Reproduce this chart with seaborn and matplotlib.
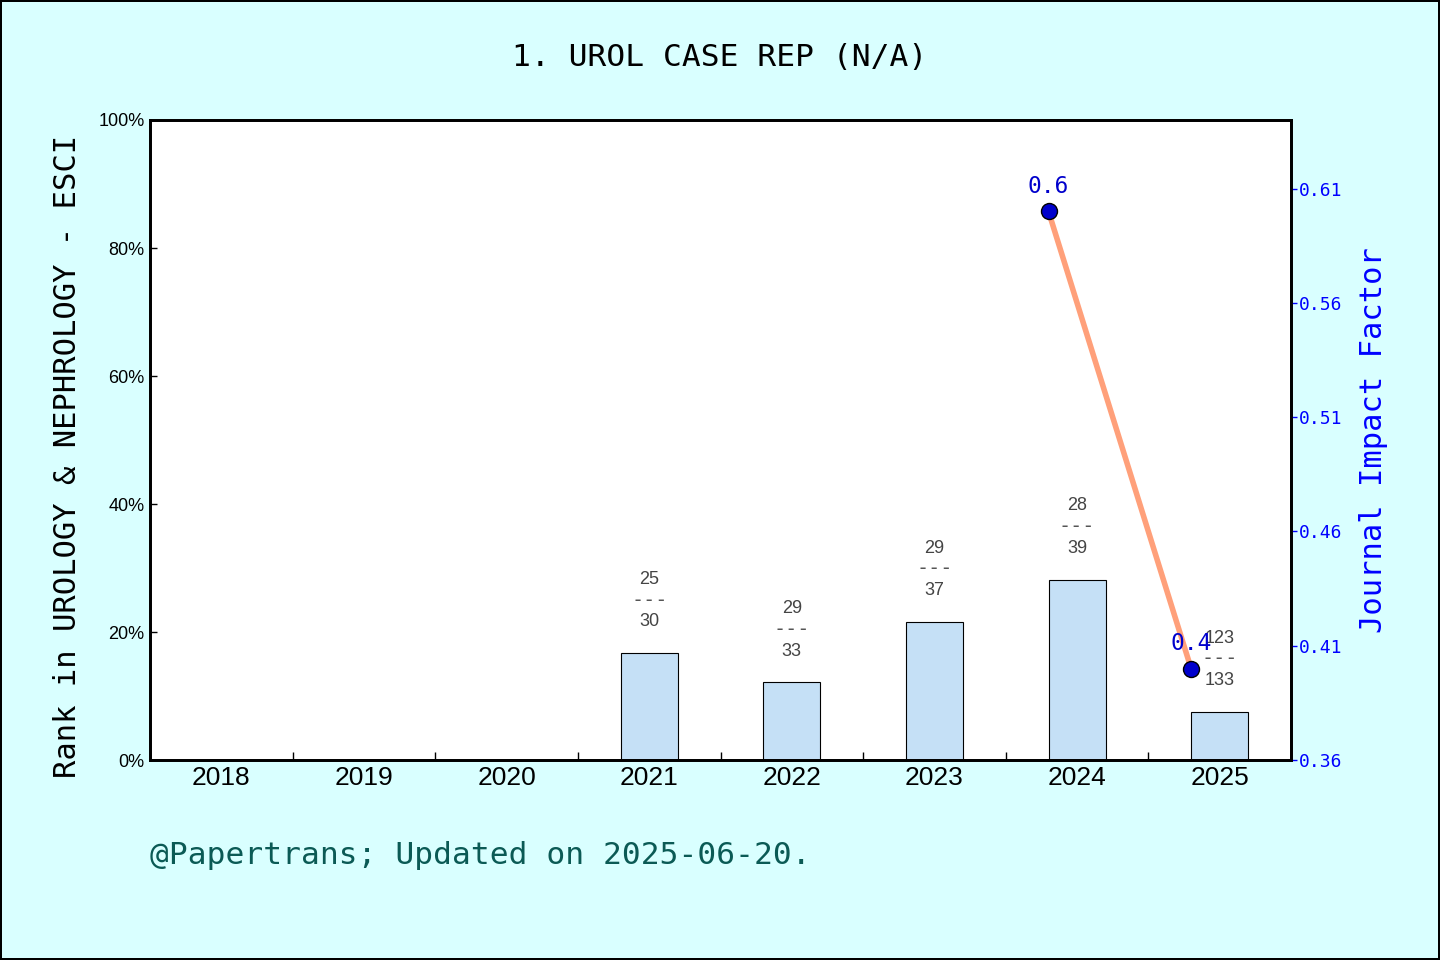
import numpy as np
import pandas as pd
import matplotlib
matplotlib.use("Agg")
import matplotlib.pyplot as plt
from matplotlib.ticker import FixedLocator
import seaborn as sns

# === data ===
years = ['2018', '2019', '2020', '2021', '2022', '2023', '2024', '2025']
rank_years = ['2021', '2022', '2023', '2024', '2025']
rank = [25, 29, 29, 28, 123]
total = [30, 33, 37, 39, 133]
jif_years = ['2024', '2025']
jif = [0.6, 0.4]
jif_ticks = [0.36, 0.41, 0.46, 0.51, 0.56, 0.61]

title = "1. UROL CASE REP (N/A)"
ylabel_left = "Rank in UROLOGY & NEPHROLOGY - ESCI"
ylabel_right = "Journal Impact Factor"
footer = "@Papertrans; Updated on 2025-06-20."

mono = ['DejaVu Sans Mono']
sans = ['Liberation Sans', 'DejaVu Sans']

df = pd.DataFrame({'year': rank_years, 'rank': rank, 'total': total})
df['ratio'] = 1 - df['rank'] / df['total']

sns.set_style("white")
plt.rcParams['font.family'] = sans
plt.rcParams['text.color'] = 'black'
plt.rcParams['axes.labelcolor'] = 'black'
plt.rcParams['xtick.color'] = 'black'
plt.rcParams['ytick.color'] = 'black'

fig = plt.figure(figsize=(14.4, 9.6), dpi=100, facecolor='#d9ffff',
                 edgecolor='black', linewidth=1.5)
ax = fig.add_axes([0.1042, 0.2083, 0.7923, 0.6667])
ax.set_facecolor('white')

sns.barplot(data=df, x='year', y='ratio', order=years, color='#c5e0f6',
            edgecolor='black', linewidth=0.8, width=0.4, errorbar=None,
            saturation=1, ax=ax)

# rank / total above each bar
for _, r in df.iterrows():
    xi = years.index(r['year'])
    yc = r['ratio'] + 0.083
    ax.text(xi, yc + 0.032, f"{r['rank']}", ha='center', va='center',
            fontsize=13, color='#444444')
    ax.text(xi, yc, "---", ha='center', va='center', fontsize=14.5,
            color='#555555', family=mono)
    ax.text(xi, yc - 0.034, f"{r['total']}", ha='center', va='center',
            fontsize=13, color='#444444')

ax.set_xlim(-0.5, len(years) - 0.5)
ax.set_ylim(0, 1)
ax.set_yticks(np.linspace(0, 1, 6))
ax.set_yticklabels([f"{int(v * 100)}%" for v in np.linspace(0, 1, 6)], fontsize=13)
ax.set_xticks(range(len(years)))
ax.set_xticklabels(years, fontsize=19)
ax.xaxis.set_minor_locator(FixedLocator(np.arange(0.5, len(years) - 0.5, 1)))
ax.tick_params(axis='x', which='major', length=0, pad=4)
ax.tick_params(axis='x', which='minor', direction='in', length=6, width=1, bottom=True)
ax.tick_params(axis='y', direction='in', length=5, width=1, left=True, pad=4)
ax.set_xlabel('')
ax.set_ylabel(ylabel_left, fontsize=22, family=mono)
ax.yaxis.set_label_coords(-0.06, 0.475)
for s in ax.spines.values():
    s.set_visible(True)
    s.set_color('black')
    s.set_linewidth(2)

# impact factor on the right axis
ax2 = ax.twinx()
jx = [years.index(y) - 0.2 for y in jif_years]
ax2.plot(jx, jif, color='#ffa07a', linewidth=4, zorder=3)
ax2.plot(jx, jif, linestyle='none', marker='o', markersize=11.5,
         markerfacecolor='#0000cc', markeredgecolor='black', markeredgewidth=1, zorder=4)
for xi, v in zip(jx, jif):
    ax2.annotate(f"{v}", (xi, v), xytext=(0, 18), textcoords='offset points',
                 ha='center', va='center', fontsize=16.5, color='#0000cc', family=mono)
ax2.set_ylim(0.36, 0.64)
ax2.set_yticks(jif_ticks)
ax2.set_yticklabels([f"{v:.2f}" for v in jif_ticks], fontsize=13, family=mono, color='blue')
ax2.tick_params(axis='y', direction='out', length=4, width=1, colors='blue', pad=2)
ax2.set_ylabel(ylabel_right, fontsize=22, family=mono, color='blue', labelpad=12)
ax2.set_xlim(-0.5, len(years) - 0.5)
for s in ax2.spines.values():
    s.set_color('black')
    s.set_linewidth(2)

fig.text(0.5, 0.94, title, ha='center', va='center', fontsize=22.5, family=mono)
fig.text(0.104, 0.109, footer, ha='left', va='center', fontsize=22.5, family=mono,
         color='#0b5a55')

fig.savefig('out.png', dpi=100, facecolor=fig.get_facecolor(), edgecolor='black')
